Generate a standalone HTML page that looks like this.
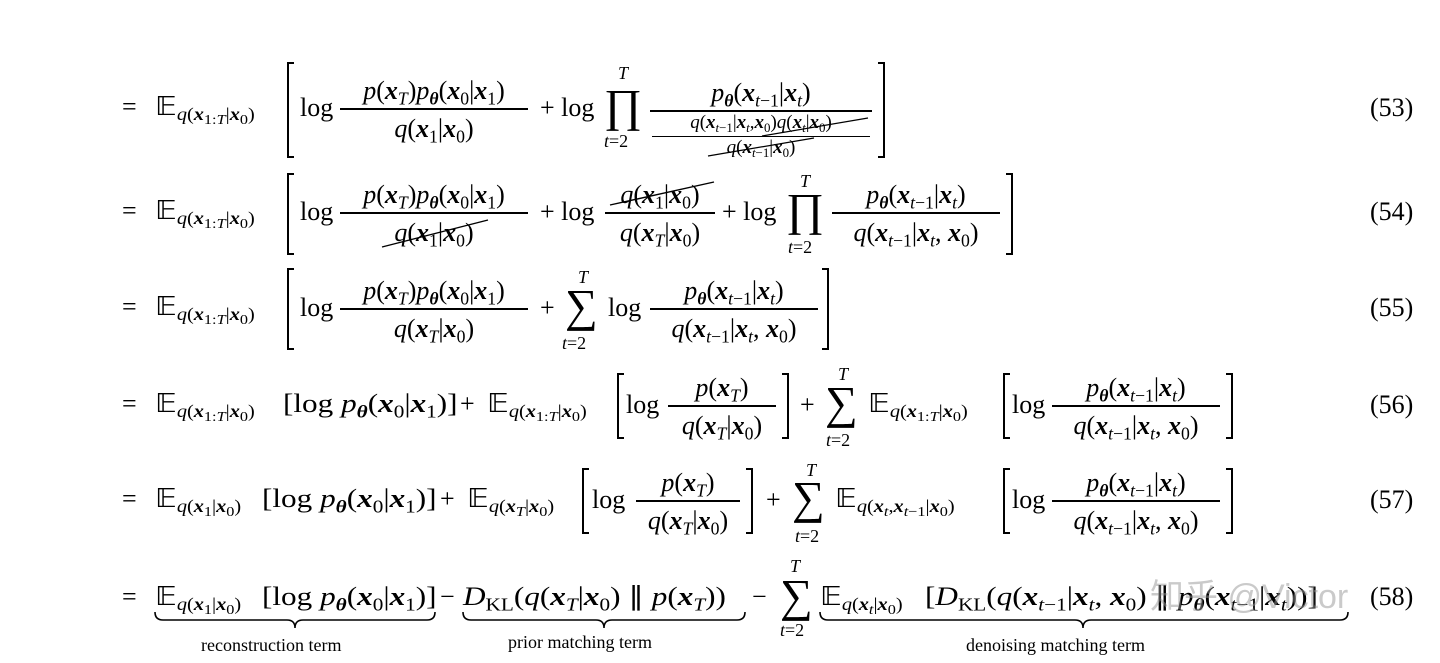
<!DOCTYPE html>
<html><head><meta charset="utf-8"><style>
body{margin:0;width:1440px;height:663px;background:#fff;position:relative;overflow:hidden;font-family:"Liberation Serif",serif;color:#000}
.m{position:absolute;font-size:26px;white-space:nowrap;line-height:1}
.p{transform:scaleX(1.2);transform-origin:0 0}
.e{transform:scaleX(1.15);transform-origin:0 0}
.c{position:absolute;font-size:26px;white-space:nowrap;line-height:30px;text-align:center}
b{font-style:italic;font-weight:bold}
sub{font-size:0.68em;vertical-align:-0.3em;line-height:0}
sub sub{font-size:0.8em}
.bar{position:absolute;height:1.6px;background:#000}
.bl{position:absolute;border:2px solid #000;border-right:none;width:7px;box-sizing:border-box}
.br{position:absolute;border:2px solid #000;border-left:none;width:7px;box-sizing:border-box}
.big{position:absolute;font-size:46px;line-height:1}
.lim{position:absolute;font-size:18px;line-height:1;font-style:italic}
.lab{position:absolute;font-size:18px;line-height:1;white-space:nowrap}
</style></head><body>

<!-- (53) c=108 -->
<div class="m" style="left:122px;top:94px">=</div>
<div class="m e" style="left:155px;top:94px">𝔼<sub><i>q</i>(<b>x</b><sub>1:<i>T</i></sub>|<b>x</b><sub>0</sub>)</sub></div>
<div class="bl" style="left:287px;top:62px;height:96px"></div>
<div class="m" style="left:300px;top:95px">log</div>
<div class="c" style="left:338px;top:76px;width:192px"><i>p</i>(<b>x</b><sub><i>T</i></sub>)<i>p</i><sub><b>θ</b></sub>(<b>x</b><sub>0</sub>|<b>x</b><sub>1</sub>)</div>
<div class="bar" style="left:340px;top:108px;width:188px"></div>
<div class="c" style="left:338px;top:114px;width:192px"><i>q</i>(<b>x</b><sub>1</sub>|<b>x</b><sub>0</sub>)</div>
<div class="m" style="left:540px;top:95px">+ log</div>
<div class="big" style="left:604px;top:83px">∏</div>
<div class="lim" style="left:618px;top:64px">T</div>
<div class="lim" style="left:604px;top:132px">t<span style="font-style:normal">=2</span></div>
<div class="c" style="left:650px;top:78px;width:222px"><i>p</i><sub><b>θ</b></sub>(<b>x</b><sub><i>t</i>−1</sub>|<b>x</b><sub><i>t</i></sub>)</div>
<div class="bar" style="left:650px;top:110px;width:222px"></div>
<div class="c" style="left:650px;top:112px;width:222px;font-size:19px;line-height:22px"><i>q</i>(<b>x</b><sub><i>t</i>−1</sub>|<b>x</b><sub><i>t</i></sub>,<b>x</b><sub>0</sub>)<i>q</i>(<b>x</b><sub><i>t</i></sub>|<b>x</b><sub>0</sub>)</div>
<div class="bar" style="left:652px;top:136px;width:218px;height:1.2px"></div>
<div class="c" style="left:650px;top:137px;width:222px;font-size:19px;line-height:22px"><i>q</i>(<b>x</b><sub><i>t</i>−1</sub>|<b>x</b><sub>0</sub>)</div>
<div class="br" style="left:878px;top:62px;height:96px"></div>
<div class="m" style="left:1370px;top:95px">(53)</div>

<!-- (54) c=212 -->
<div class="m" style="left:122px;top:198px">=</div>
<div class="m e" style="left:155px;top:198px">𝔼<sub><i>q</i>(<b>x</b><sub>1:<i>T</i></sub>|<b>x</b><sub>0</sub>)</sub></div>
<div class="bl" style="left:287px;top:173px;height:82px"></div>
<div class="m" style="left:300px;top:199px">log</div>
<div class="c" style="left:338px;top:180px;width:192px"><i>p</i>(<b>x</b><sub><i>T</i></sub>)<i>p</i><sub><b>θ</b></sub>(<b>x</b><sub>0</sub>|<b>x</b><sub>1</sub>)</div>
<div class="bar" style="left:340px;top:212px;width:188px"></div>
<div class="c" style="left:338px;top:218px;width:192px"><i>q</i>(<b>x</b><sub>1</sub>|<b>x</b><sub>0</sub>)</div>
<div class="m" style="left:540px;top:199px">+ log</div>
<div class="c" style="left:604px;top:180px;width:112px"><i>q</i>(<b>x</b><sub>1</sub>|<b>x</b><sub>0</sub>)</div>
<div class="bar" style="left:605px;top:212px;width:110px"></div>
<div class="c" style="left:604px;top:218px;width:112px"><i>q</i>(<b>x</b><sub><i>T</i></sub>|<b>x</b><sub>0</sub>)</div>
<div class="m" style="left:722px;top:199px">+ log</div>
<div class="big" style="left:786px;top:187px">∏</div>
<div class="lim" style="left:800px;top:172px">T</div>
<div class="lim" style="left:788px;top:238px">t<span style="font-style:normal">=2</span></div>
<div class="c" style="left:830px;top:180px;width:172px"><i>p</i><sub><b>θ</b></sub>(<b>x</b><sub><i>t</i>−1</sub>|<b>x</b><sub><i>t</i></sub>)</div>
<div class="bar" style="left:832px;top:212px;width:168px"></div>
<div class="c" style="left:830px;top:218px;width:172px"><i>q</i>(<b>x</b><sub><i>t</i>−1</sub>|<b>x</b><sub><i>t</i></sub>, <b>x</b><sub>0</sub>)</div>
<div class="br" style="left:1006px;top:173px;height:82px"></div>
<div class="m" style="left:1370px;top:199px">(54)</div>

<!-- (55) c=308 -->
<div class="m" style="left:122px;top:294px">=</div>
<div class="m e" style="left:155px;top:294px">𝔼<sub><i>q</i>(<b>x</b><sub>1:<i>T</i></sub>|<b>x</b><sub>0</sub>)</sub></div>
<div class="bl" style="left:287px;top:268px;height:82px"></div>
<div class="m" style="left:300px;top:295px">log</div>
<div class="c" style="left:338px;top:276px;width:192px"><i>p</i>(<b>x</b><sub><i>T</i></sub>)<i>p</i><sub><b>θ</b></sub>(<b>x</b><sub>0</sub>|<b>x</b><sub>1</sub>)</div>
<div class="bar" style="left:340px;top:308px;width:188px"></div>
<div class="c" style="left:338px;top:314px;width:192px"><i>q</i>(<b>x</b><sub><i>T</i></sub>|<b>x</b><sub>0</sub>)</div>
<div class="m" style="left:540px;top:295px">+</div>
<div class="big" style="left:565px;top:283px">∑</div>
<div class="lim" style="left:578px;top:268px">T</div>
<div class="lim" style="left:562px;top:334px">t<span style="font-style:normal">=2</span></div>
<div class="m" style="left:608px;top:295px">log</div>
<div class="c" style="left:648px;top:276px;width:172px"><i>p</i><sub><b>θ</b></sub>(<b>x</b><sub><i>t</i>−1</sub>|<b>x</b><sub><i>t</i></sub>)</div>
<div class="bar" style="left:650px;top:308px;width:168px"></div>
<div class="c" style="left:648px;top:314px;width:172px"><i>q</i>(<b>x</b><sub><i>t</i>−1</sub>|<b>x</b><sub><i>t</i></sub>, <b>x</b><sub>0</sub>)</div>
<div class="br" style="left:822px;top:268px;height:82px"></div>
<div class="m" style="left:1370px;top:295px">(55)</div>

<!-- (56) c=405 -->
<div class="m" style="left:122px;top:391px">=</div>
<div class="m e" style="left:155px;top:391px">𝔼<sub><i>q</i>(<b>x</b><sub>1:<i>T</i></sub>|<b>x</b><sub>0</sub>)</sub></div>
<div class="m p" style="left:283px;top:391px">[log <i>p</i><sub><b>θ</b></sub>(<b>x</b><sub>0</sub>|<b>x</b><sub>1</sub>)]</div>
<div class="m" style="left:460px;top:391px">+</div>
<div class="m e" style="left:487px;top:391px">𝔼<sub><i>q</i>(<b>x</b><sub>1:<i>T</i></sub>|<b>x</b><sub>0</sub>)</sub></div>
<div class="bl" style="left:617px;top:373px;height:66px"></div>
<div class="m" style="left:626px;top:392px">log</div>
<div class="c" style="left:666px;top:373px;width:112px"><i>p</i>(<b>x</b><sub><i>T</i></sub>)</div>
<div class="bar" style="left:668px;top:405px;width:108px"></div>
<div class="c" style="left:666px;top:411px;width:112px"><i>q</i>(<b>x</b><sub><i>T</i></sub>|<b>x</b><sub>0</sub>)</div>
<div class="br" style="left:782px;top:373px;height:66px"></div>
<div class="m" style="left:800px;top:392px">+</div>
<div class="big" style="left:825px;top:380px">∑</div>
<div class="lim" style="left:838px;top:365px">T</div>
<div class="lim" style="left:826px;top:431px">t<span style="font-style:normal">=2</span></div>
<div class="m e" style="left:868px;top:391px">𝔼<sub><i>q</i>(<b>x</b><sub>1:<i>T</i></sub>|<b>x</b><sub>0</sub>)</sub></div>
<div class="bl" style="left:1003px;top:373px;height:66px"></div>
<div class="m" style="left:1012px;top:392px">log</div>
<div class="c" style="left:1050px;top:373px;width:172px"><i>p</i><sub><b>θ</b></sub>(<b>x</b><sub><i>t</i>−1</sub>|<b>x</b><sub><i>t</i></sub>)</div>
<div class="bar" style="left:1052px;top:405px;width:168px"></div>
<div class="c" style="left:1050px;top:411px;width:172px"><i>q</i>(<b>x</b><sub><i>t</i>−1</sub>|<b>x</b><sub><i>t</i></sub>, <b>x</b><sub>0</sub>)</div>
<div class="br" style="left:1226px;top:373px;height:66px"></div>
<div class="m" style="left:1370px;top:392px">(56)</div>

<!-- (57) c=500 -->
<div class="m" style="left:122px;top:486px">=</div>
<div class="m e" style="left:155px;top:486px">𝔼<sub><i>q</i>(<b>x</b><sub>1</sub>|<b>x</b><sub>0</sub>)</sub></div>
<div class="m p" style="left:262px;top:486px">[log <i>p</i><sub><b>θ</b></sub>(<b>x</b><sub>0</sub>|<b>x</b><sub>1</sub>)]</div>
<div class="m" style="left:440px;top:486px">+</div>
<div class="m e" style="left:467px;top:486px">𝔼<sub><i>q</i>(<b>x</b><sub><i>T</i></sub>|<b>x</b><sub>0</sub>)</sub></div>
<div class="bl" style="left:582px;top:468px;height:66px"></div>
<div class="m" style="left:592px;top:487px">log</div>
<div class="c" style="left:634px;top:468px;width:108px"><i>p</i>(<b>x</b><sub><i>T</i></sub>)</div>
<div class="bar" style="left:636px;top:500px;width:104px"></div>
<div class="c" style="left:634px;top:506px;width:108px"><i>q</i>(<b>x</b><sub><i>T</i></sub>|<b>x</b><sub>0</sub>)</div>
<div class="br" style="left:746px;top:468px;height:66px"></div>
<div class="m" style="left:766px;top:487px">+</div>
<div class="big" style="left:792px;top:475px">∑</div>
<div class="lim" style="left:806px;top:461px">T</div>
<div class="lim" style="left:795px;top:527px">t<span style="font-style:normal">=2</span></div>
<div class="m e" style="left:835px;top:486px">𝔼<sub><i>q</i>(<b>x</b><sub><i>t</i></sub>,<b>x</b><sub><i>t</i>−1</sub>|<b>x</b><sub>0</sub>)</sub></div>
<div class="bl" style="left:1003px;top:468px;height:66px"></div>
<div class="m" style="left:1012px;top:487px">log</div>
<div class="c" style="left:1050px;top:468px;width:172px"><i>p</i><sub><b>θ</b></sub>(<b>x</b><sub><i>t</i>−1</sub>|<b>x</b><sub><i>t</i></sub>)</div>
<div class="bar" style="left:1052px;top:500px;width:168px"></div>
<div class="c" style="left:1050px;top:506px;width:172px"><i>q</i>(<b>x</b><sub><i>t</i>−1</sub>|<b>x</b><sub><i>t</i></sub>, <b>x</b><sub>0</sub>)</div>
<div class="br" style="left:1226px;top:468px;height:66px"></div>
<div class="m" style="left:1370px;top:487px">(57)</div>

<!-- (58) c=598 -->
<div class="m" style="left:122px;top:584px">=</div>
<div class="m e" style="left:155px;top:584px">𝔼<sub><i>q</i>(<b>x</b><sub>1</sub>|<b>x</b><sub>0</sub>)</sub></div>
<div class="m p" style="left:262px;top:584px">[log <i>p</i><sub><b>θ</b></sub>(<b>x</b><sub>0</sub>|<b>x</b><sub>1</sub>)]</div>
<div class="m" style="left:440px;top:584px">−</div>
<div class="m p" style="left:463px;top:584px"><i>D</i><sub>KL</sub>(<i>q</i>(<b>x</b><sub><i>T</i></sub>|<b>x</b><sub>0</sub>) ∥ <i>p</i>(<b>x</b><sub><i>T</i></sub>))</div>
<div class="m" style="left:752px;top:584px">−</div>
<div class="big" style="left:780px;top:573px">∑</div>
<div class="lim" style="left:790px;top:557px">T</div>
<div class="lim" style="left:780px;top:621px">t<span style="font-style:normal">=2</span></div>
<div class="m e" style="left:820px;top:584px">𝔼<sub><i>q</i>(<b>x</b><sub><i>t</i></sub>|<b>x</b><sub>0</sub>)</sub></div>
<div class="m p" style="left:925px;top:584px">[<i>D</i><sub>KL</sub>(<i>q</i>(<b>x</b><sub><i>t</i>−1</sub>|<b>x</b><sub><i>t</i></sub>, <b>x</b><sub>0</sub>) ∥ <i>p</i><sub><b>θ</b></sub>(<b>x</b><sub><i>t</i>−1</sub>|<b>x</b><sub><i>t</i></sub>))]</div>
<div class="m" style="left:1150px;top:580px;font-family:'Liberation Sans','Noto Sans CJK SC',sans-serif;font-size:34px;color:rgba(150,150,150,0.5)">知乎 @Victor</div>
<div class="m" style="left:1370px;top:584px">(58)</div>

<svg style="position:absolute;left:0;top:0" width="1440" height="663">
<g fill="none" stroke="#000" stroke-width="1.6">
<path d="M155,612 q0,8 8,8 H287 q8,0 8,8 q0,-8 8,-8 H427 q8,0 8,-8"/>
<path d="M463,612 q0,8 8,8 H596 q8,0 8,8 q0,-8 8,-8 H737 q8,0 8,-8"/>
<path d="M820,612 q0,8 8,8 H1075 q8,0 8,8 q0,-8 8,-8 H1340 q8,0 8,-8"/>
<line x1="382" y1="247" x2="488" y2="220" stroke-width="1.4"/>
<line x1="610" y1="205" x2="714" y2="182" stroke-width="1.4"/>
<line x1="762" y1="136" x2="868" y2="118" stroke-width="1.2"/>
<line x1="708" y1="156" x2="814" y2="138" stroke-width="1.2"/>
</g>
</svg>
<div class="lab" style="left:201px;top:636px">reconstruction term</div>
<div class="lab" style="left:508px;top:633px">prior matching term</div>
<div class="lab" style="left:966px;top:636px">denoising matching term</div>
</body></html>
